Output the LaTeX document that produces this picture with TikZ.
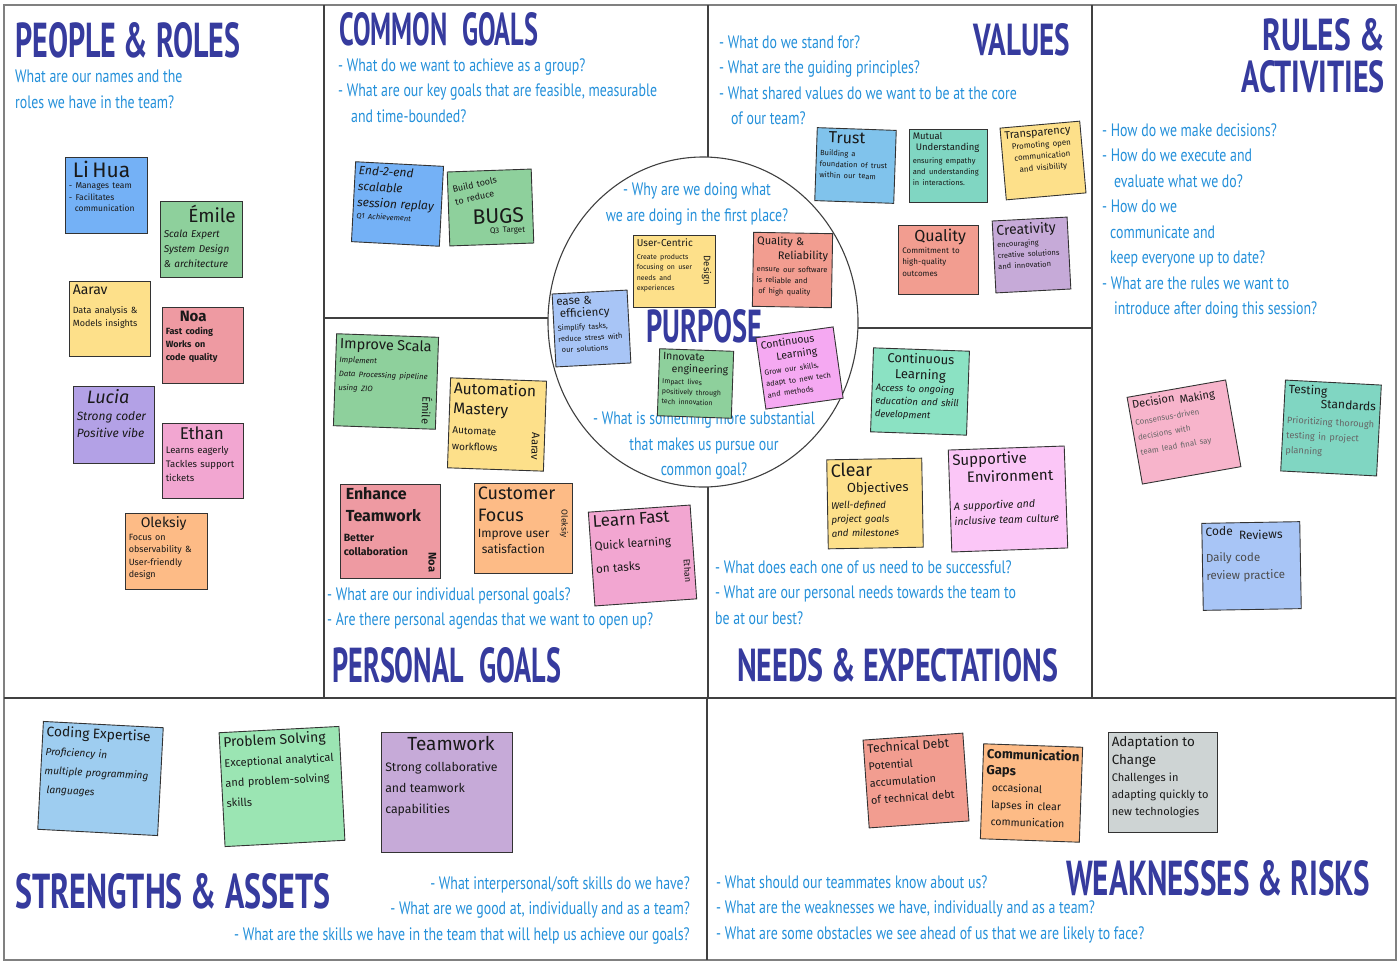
\documentclass[tikz,border=0pt]{standalone}
\usepackage{fontspec}
\usepackage{graphicx}
\newfontfamily\titlefont{PT Sans}
\newfontfamily\qfont[FakeStretch=0.77]{PT Sans}
\newfontfamily\notefont{Fira Sans}
\hyphenpenalty=10000
\exhyphenpenalty=10000
\definecolor{wb-title}{HTML}{363B9E}
\definecolor{wb-question}{HTML}{2490DA}
\definecolor{pn-blue}{HTML}{74B1F6}
\definecolor{pn-green}{HTML}{8ED09C}
\definecolor{pn-yellow}{HTML}{FDE08A}
\definecolor{pn-red}{HTML}{EE9AA2}
\definecolor{pn-purple}{HTML}{B3A1E6}
\definecolor{pn-pink}{HTML}{F2A6D1}
\definecolor{pn-orange}{HTML}{FDBB86}
\definecolor{pn-salmon}{HTML}{F29D90}
\definecolor{pn-sky}{HTML}{A8C5F6}
\definecolor{pn-magenta}{HTML}{F5A9F2}
\definecolor{pn-cyan}{HTML}{80C3EC}
\definecolor{pn-teal}{HTML}{80D6C2}
\definecolor{pn-lilac}{HTML}{C6AAD8}
\definecolor{pn-mint}{HTML}{8BE2C3}
\definecolor{pn-rose}{HTML}{FBC6F7}
\definecolor{pn-blush}{HTML}{F7B4CB}
\definecolor{pn-ice}{HTML}{9ECDF0}
\definecolor{pn-jade}{HTML}{9BE5B3}
\definecolor{pn-grey}{HTML}{CED4D4}

\tikzset{
  board/.style={draw=black!50, line width=1.8pt},
  panel/.style={draw=black!75, line width=1.1pt},
  boardtitle/.style={text=wb-title, inner sep=0pt, anchor=north west},
  question/.style={text=wb-question, font=\qfont\fontsize{18}{25.5}\selectfont, inner sep=0pt, anchor=north west, align=left},
  postit/.style={draw=black!80, line width=0.9pt, inner sep=0pt},
  postit text/.style={anchor=north west, inner sep=4pt, align=left, font=\notefont, text=black!90},
  side name/.style={font=\notefont\fontsize{10}{11}\selectfont, inner sep=1pt, text=black!90},
}

% one line block of a sticky note: size, leading, text
\newcommand{\notetxt}[3]{{\fontsize{#1}{#2}\selectfont #3\par}}
% sticky note: name, x, y, width, height, angle, colour, text
\newcommand{\postit}[8]{%
  \pgfmathsetlengthmacro\postitwidth{#4pt-8pt}%
  \begin{scope}[shift={(#2,#3)}, rotate=#6, transform shape]
    \node[postit, fill=#7, minimum width=#4pt, minimum height=#5pt] (#1) at (0,0) {};
    \node[postit text, text width=\postitwidth] (#1-t) at (#1.north west) {#8};
  \end{scope}}

\begin{document}
\begin{tikzpicture}[x=1pt, y=-1pt]
    \useasboundingbox (0,0) rectangle (1400,964);
    \fill[white] (0,0) rectangle (1400,964);

    % Board and panels
    \draw[board] (4,5) rectangle (1396,960);
    \draw[panel] (324,5) -- (324,698);
    \draw[panel] (1092,5) -- (1092,698);
    \draw[panel] (708,5) -- (708,157);
    \draw[panel] (708,487) -- (708,698);
    \draw[panel] (324,318) -- (548,318);
    \draw[panel] (858,328) -- (1092,328);
    \draw[panel] (4,698) -- (1396,698);
    \draw[panel] (707,698) -- (707,960);
    \draw[panel] (703,322) ellipse [x radius=155, y radius=165];

    % Titles
    \node[boardtitle] (t-people) at (15,22) {\resizebox{225pt}{35pt}{\titlefont\bfseries PEOPLE \& ROLES}};
    \node[boardtitle] (t-common) at (339,12) {\resizebox{199pt}{33pt}{\titlefont\bfseries COMMON\hspace{0.3em} GOALS}};
    \node[boardtitle] (t-values) at (973,23) {\resizebox{97pt}{32pt}{\titlefont\bfseries VALUES}};
    \node[boardtitle, anchor=north east] (t-rules) at (1385,18) {\resizebox{122pt}{32pt}{\titlefont\bfseries RULES \&}};
    \node[boardtitle, anchor=north east] (t-activities) at (1385,60) {\resizebox{143pt}{32pt}{\titlefont\bfseries ACTIVITIES}};
    \node[boardtitle] (t-purpose) at (646,309) {\resizebox{116pt}{33pt}{\titlefont\bfseries PURPOSE}};
    \node[boardtitle] (t-personal) at (332,647) {\resizebox{229pt}{35pt}{\titlefont\bfseries PERSONAL\hspace{0.3em} GOALS}};
    \node[boardtitle] (t-needs) at (737,648) {\resizebox{321pt}{33pt}{\titlefont\bfseries NEEDS \& EXPECTATIONS}};
    \node[boardtitle] (t-strengths) at (15,873) {\resizebox{315pt}{35pt}{\titlefont\bfseries STRENGTHS \& ASSETS}};
    \node[boardtitle] (t-weak) at (1066,860) {\resizebox{304pt}{35pt}{\titlefont\bfseries WEAKNESSES \& RISKS}};

    % Questions
    \node[question] (q-people) at (15,70) {What are our names and the\\roles we have in the team?};
    \node[question] (q-common) at (338,58) {- What do we want to achieve as a group?\\- What are our key goals that are feasible, measurable\\\hspace*{13pt}and time-bounded?};
    \node[question] (q-values) at (719,35) {- What do we stand for?\\- What are the guiding principles?\\- What shared values do we want to be at the core\\\hspace*{12pt}of our team?};
    \node[question] (q-rules) at (1102,123) {- How do we make decisions?\\- How do we execute and\\\hspace*{12pt}evaluate what we do?\\- How do we\\\hspace*{8pt}communicate and\\\hspace*{8pt}keep everyone up to date?\\- What are the rules we want to\\\hspace*{12pt}introduce after doing this session?};
    \node[question, align=center, anchor=north] (q-why) at (697,183) {- Why are we doing what\\we are doing in the first place?};
    \node[question, align=center, anchor=north] (q-what) at (704,412) {- What is something more substantial\\that makes us pursue our\\common goal?};
    \node[question] (q-personal) at (327,587) {- What are our individual personal goals?\\- Are there personal agendas that we want to open up?};
    \node[question] (q-needs) at (715,560) {- What does each one of us need to be successful?\\- What are our personal needs towards the team to\\be at our best?};
    \node[question, align=right, anchor=north east] (q-strengths) at (690,876) {- What interpersonal/soft skills do we have?\\- What are we good at, individually and as a team?\\- What are the skills we have in the team that will help us achieve our goals?};
    \node[question] (q-weak) at (716,875) {- What should our teammates know about us?\\- What are the weaknesses we have, individually and as a team?\\- What are some obstacles we see ahead of us that we are likely to face?};

    % People & roles
    \postit{lihua}{106}{195}{82}{76}{0}{pn-blue}{\notetxt{21}{23}{\hspace*{4pt}Li Hua}\notetxt{8.5}{11.5}{- Manages team\\- Facilitates\\\hspace*{6pt}communication}}
    \postit{emile}{201}{239}{82}{76}{0}{pn-green}{\notetxt{19}{19}{\hfill Émile\hspace*{2pt}}\notetxt{10}{15}{\itshape Scala Expert\\System Design\\\& architecture}}
    \postit{aarav}{109.5}{318.5}{81}{75}{0}{pn-yellow}{\notetxt{14}{18}{Aarav}\vspace{6pt}\notetxt{9}{13}{Data analysis \&\\Models insights}}
    \postit{noa}{202.5}{345}{81}{76}{0}{pn-red}{\notetxt{15}{18}{\bfseries\hspace*{14pt}Noa}\notetxt{9}{13}{\bfseries Fast coding\\Works on\\code quality}}
    \postit{lucia}{113.5}{424.5}{81}{77}{0}{pn-purple}{\notetxt{18}{20}{\itshape\hspace*{10pt}Lucia}\notetxt{12}{17}{\itshape Strong coder\\Positive vibe}}
    \postit{ethan}{202.5}{460.5}{81}{75}{0}{pn-pink}{\notetxt{17}{19}{\hspace*{14pt}Ethan}\notetxt{9.5}{14}{Learns eagerly\\Tackles support\\tickets}}
    \postit{oleksiy}{166}{551}{82}{76}{0}{pn-orange}{\notetxt{14}{15}{\hspace*{12pt}Oleksiy}\notetxt{9}{12.5}{Focus on\\observability \&\\User-friendly\\design}}

    % Common goals
    \postit{e2e}{397.5}{204}{88}{80}{-3}{pn-blue}{\notetxt{12}{16}{\itshape End-2-end\\scalable\\session replay}\vspace{3pt}\notetxt{7.5}{9}{\itshape Q1 Achievement}}
    \postit{bugs}{490.5}{207.5}{84}{74}{2}{pn-green}{\notetxt{9}{13}{\rotatebox{10}{\begin{tabular}{@{}l@{}}Build tools\\to reduce\end{tabular}}}\notetxt{21}{22}{\hspace*{20pt}BUGS}\notetxt{8}{10}{\hfill Q3 Target\hspace*{4pt}}}

    % Purpose
    \postit{ucd}{674}{271}{82}{72}{0}{pn-yellow}{\notetxt{10}{14}{User-Centric}\vspace{2pt}\notetxt{7}{10.5}{Create products\\focusing on user\\needs and\\experiences}}
    \node[side name, font=\notefont\fontsize{9.5}{10}\selectfont, rotate=-90, anchor=north west] (ucd-s) at ([shift={(-3pt,-20pt)}]ucd.north east) {Design};
    \postit{qr}{792.5}{270}{79}{74}{-1}{pn-salmon}{\notetxt{11}{13}{Quality \&}\notetxt{11}{14}{\hfill Reliability}\vspace{2pt}\notetxt{7.5}{11}{ensure our software\\is reliable and\\\hspace*{2pt}of high quality}}
    \postit{ease}{591.5}{328.5}{75}{73}{3}{pn-sky}{\notetxt{11.5}{12.5}{ease \&\\\hspace*{3pt}efficiency}\vspace{2pt}\notetxt{7.5}{11}{Simplify tasks,\\reduce stress with\\\hspace*{3pt}our solutions}}
    \postit{innov}{695.5}{383.5}{74}{67}{-2}{pn-green}{\notetxt{10.5}{12}{Innovate\\\hspace*{9pt}engineering}\vspace{2pt}\notetxt{7}{10}{Impact lives\\positively through\\tech innovation}}
    \postit{contl}{799.5}{368}{78}{72}{8}{pn-magenta}{\notetxt{10.5}{13}{Continuous\\\hspace*{14pt}Learning}\vspace{2pt}\notetxt{7.5}{11.5}{Grow our skills,\\adapt to new tech\\and methods}}

    % Values
    \postit{trust}{855.5}{165.5}{79}{73}{-2}{pn-cyan}{\notetxt{16}{19}{\hspace*{8pt}Trust}\vspace{2pt}\notetxt{7.5}{11}{Building a\\foundation of trust\\within our team}}
    \postit{mutual}{948}{165.5}{78}{73}{0}{pn-teal}{\notetxt{9.5}{11}{Mutual\\\hspace*{3pt}Understanding}\vspace{2pt}\notetxt{7.5}{11}{ensuring empathy\\and understanding\\in interactions.}}
    \postit{transp}{1043}{160.5}{80}{72}{5}{pn-yellow}{\notetxt{11}{15}{Transparency}\notetxt{8}{11.5}{\centering Promoting open\\communication\\and visibility}}
    \postit{quality}{938.5}{260}{80}{69}{0}{pn-salmon}{\notetxt{16}{20}{\hspace*{12pt}Quality}\notetxt{8}{11.5}{Commitment to\\high-quality\\outcomes}}
    \postit{creat}{1031.5}{255}{75}{72}{3}{pn-lilac}{\notetxt{14}{17}{Creativity}\vspace{1pt}\notetxt{7.5}{11}{encouraging\\creative solutions\\and innovation}}

    % Rules & activities
    \postit{decision}{1184}{432}{100}{88}{10}{pn-blush}{\notetxt{11}{18}{Decision\hspace{5pt}\raisebox{-3pt}{Making}}\vspace{2pt}\notetxt{8}{15}{\color{black!60}Consensus-driven\\decisions with\\team lead final say}}
    \postit{testing}{1331}{428}{96}{91}{-3}{pn-teal}{\notetxt{12}{13}{Testing\\\hfill Standards}\vspace{2pt}\notetxt{9.2}{15}{\color{black!60}Prioritizing thorough\\testing in project\\planning}}
    \postit{review}{1251.5}{566}{98}{87}{1}{pn-sky}{\notetxt{12}{18}{Code\hspace{6pt}\raisebox{-4pt}{Reviews}}\vspace{8pt}\notetxt{11.5}{18}{\color{black!70}Daily code\\review practice}}

    % Needs & expectations
    \postit{learning}{920}{391.5}{96}{84}{-2}{pn-mint}{\notetxt{13}{16}{\centering Continuous\\Learning}\notetxt{9.5}{13}{\itshape Access to ongoing\\education and skill\\development}}
    \postit{clear}{875}{503.5}{95}{89}{1}{pn-yellow}{\notetxt{18}{18}{Clear}\notetxt{13}{16}{\hspace*{16pt}Objectives}\vspace{2pt}\notetxt{9.7}{14}{\itshape Well-defined\\project goals\\and milestones}}
    \postit{support}{1008}{499}{116}{102}{2}{pn-rose}{\notetxt{15}{18}{Supportive\\\hspace*{14pt}Environment}\vspace{12pt}\notetxt{10.5}{15}{\itshape A supportive and\\inclusive team culture}}

    % Personal goals
    \postit{scala}{386}{381.5}{102}{92}{-2}{pn-green}{\notetxt{14.5}{22}{Improve Scala}\notetxt{7.8}{14}{\itshape Implement\\Data Processing pipeline\\using ZIO}}
    \node[side name, font=\notefont\fontsize{11}{12}\selectfont, rotate=-92, anchor=north east] (scala-s) at ([shift={(-3pt,4pt)}]scala.south east) {Émile};
    \postit{automation}{497}{424.5}{96}{90}{-2}{pn-yellow}{\notetxt{15.5}{20}{Automation\\Mastery}\vspace{4pt}\notetxt{10}{16}{Automate\\workflows}}
    \node[side name, font=\notefont\fontsize{11}{12}\selectfont, rotate=-92, anchor=north east] (automation-s) at ([shift={(-4pt,10pt)}]automation.south east) {Aarav};
    \postit{teamup}{390}{531}{100}{94}{0}{pn-red}{\notetxt{16}{22}{\bfseries\hspace*{2pt}Enhance\\\hspace*{2pt}Teamwork}\vspace{6pt}\notetxt{10.5}{14}{\bfseries Better\\collaboration}}
    \node[side name, font=\notefont\bfseries\fontsize{11}{12}\selectfont, rotate=-90, anchor=north east] (teamup-s) at ([shift={(-3pt,5pt)}]teamup.south east) {Noa};
    \postit{customer}{523}{528}{98}{90}{0}{pn-orange}{\notetxt{18}{22}{Customer\\Focus}\notetxt{12}{16}{Improve user\\\hspace*{4pt}satisfaction}}
    \node[side name, font=\notefont\fontsize{8.5}{9}\selectfont, rotate=-90, anchor=north west] (customer-s) at ([shift={(-3pt,-26pt)}]customer.north east) {Oleksiy};
    \postit{fast}{642.5}{555.5}{102}{94}{4}{pn-pink}{\notetxt{17}{24}{Learn Fast}\notetxt{11.7}{23}{Quick learning\\on tasks}}
    \node[side name, font=\notefont\fontsize{9}{10}\selectfont, rotate=-86, anchor=north east] (fast-s) at ([shift={(-4pt,16pt)}]fast.south east) {Ethan};

    % Strengths & assets
    \postit{coding}{100.5}{778.5}{120}{108}{-3}{pn-ice}{\notetxt{13.8}{22}{Coding Expertise}\notetxt{10.2}{19}{\itshape Proficiency in\\multiple programming\\\hspace*{3pt}languages}}
    \postit{solving}{282}{786.5}{120}{114}{3}{pn-jade}{\notetxt{14}{22}{Problem Solving}\notetxt{11}{20}{Exceptional analytical\\and problem-solving\\skills}}
    \postit{teamwork}{447}{792.5}{131}{120}{0}{pn-lilac}{\notetxt{19}{26}{\hspace*{22pt}Teamwork}\notetxt{12.3}{21}{Strong collaborative\\and teamwork\\capabilities}}

    % Weaknesses & risks
    \postit{debt}{916}{780.5}{100}{88}{4}{pn-salmon}{\notetxt{12.3}{18}{Technical Debt}\notetxt{10.8}{17}{Potential\\accumulation\\of technical debt}}
    \postit{gaps}{1031.5}{793}{99}{95}{-2}{pn-orange}{\notetxt{13}{16}{\bfseries Communication\\Gaps}\notetxt{10.5}{17}{\hspace*{6pt}occasional\\\hspace*{6pt}lapses in clear\\\hspace*{6pt}communication}}
    \postit{adapt}{1162.5}{782}{109}{100}{0}{pn-grey}{\notetxt{13.4}{18}{Adaptation to\\Change}\notetxt{11}{17}{Challenges in\\adapting quickly to\\new technologies}}
\end{tikzpicture}
\end{document}
